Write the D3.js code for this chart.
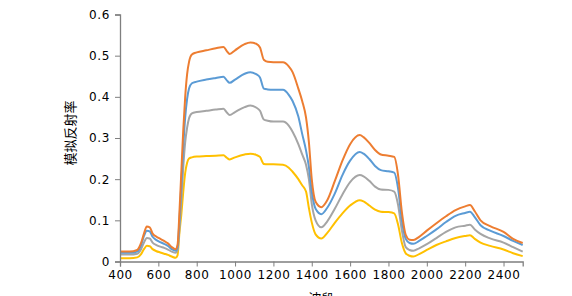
<!DOCTYPE html>
<html>
<head>
<meta charset="utf-8">
<script src="https://cdn.jsdelivr.net/npm/d3@7"></script>
<style>
  body { margin: 0; background: #fff; }
  svg { display: block; }
</style>
</head>
<body>
<svg id="chart" width="572" height="296"></svg>
<script>
// wavelengths (nm)
const wavelengths = [400, 450, 490, 510, 525, 540, 555, 570, 590, 610, 630, 650, 670, 690,
  700, 710, 720, 730, 740, 750, 760, 775, 800, 850, 900, 940, 957, 972, 1000, 1050, 1080,
  1110, 1130, 1150, 1170, 1200, 1250, 1280, 1300, 1330, 1350, 1370, 1385, 1400, 1420, 1450,
  1480, 1520, 1560, 1600, 1650, 1670, 1700, 1730, 1760, 1800, 1830, 1850, 1870, 1890, 1910,
  1930, 1960, 2000, 2050, 2100, 2150, 2200, 2225, 2250, 2280, 2330, 2400, 2450, 2500];

const orangeVals = [0.024, 0.024, 0.028, 0.045, 0.068, 0.085, 0.083, 0.068, 0.06, 0.055, 0.05, 0.044, 0.035, 0.03,
  0.04, 0.12, 0.22, 0.32, 0.40, 0.455, 0.485, 0.503, 0.508, 0.513, 0.518, 0.521, 0.511, 0.504, 0.513, 0.528, 0.532,
  0.529, 0.52, 0.49, 0.485, 0.484, 0.484, 0.474, 0.46, 0.42, 0.39, 0.35, 0.29, 0.2, 0.145, 0.132,
  0.148, 0.195, 0.245, 0.285, 0.307, 0.302, 0.288, 0.271, 0.26, 0.257, 0.254, 0.21, 0.12, 0.065, 0.053,
  0.052, 0.06, 0.075, 0.093, 0.11, 0.125, 0.134, 0.137, 0.122, 0.1, 0.086, 0.072, 0.055, 0.045];

const blueVals = [0.021, 0.021, 0.024, 0.04, 0.062, 0.075, 0.073, 0.06, 0.052, 0.047, 0.043, 0.038, 0.03, 0.026,
  0.034, 0.1, 0.19, 0.28, 0.35, 0.395, 0.42, 0.433, 0.437, 0.442, 0.446, 0.449, 0.44, 0.434, 0.442, 0.456, 0.46,
  0.455, 0.447, 0.42, 0.418, 0.417, 0.417, 0.405, 0.39, 0.352, 0.31, 0.27, 0.23, 0.17, 0.128, 0.115,
  0.13, 0.165, 0.21, 0.245, 0.266, 0.262, 0.249, 0.232, 0.222, 0.219, 0.216, 0.178, 0.1, 0.055, 0.045,
  0.043, 0.05, 0.062, 0.078, 0.096, 0.111, 0.118, 0.121, 0.108, 0.088, 0.075, 0.062, 0.05, 0.04];

const grayVals = [0.017, 0.017, 0.019, 0.03, 0.046, 0.057, 0.056, 0.046, 0.04, 0.036, 0.033, 0.029, 0.024, 0.021,
  0.028, 0.08, 0.15, 0.23, 0.29, 0.325, 0.348, 0.36, 0.363, 0.366, 0.369, 0.371, 0.362, 0.356, 0.363, 0.375, 0.379,
  0.374, 0.366, 0.345, 0.342, 0.34, 0.34, 0.33, 0.315, 0.285, 0.26, 0.235, 0.2, 0.14, 0.1, 0.083,
  0.097, 0.128, 0.163, 0.193, 0.21, 0.207, 0.196, 0.182, 0.175, 0.174, 0.17, 0.138, 0.075, 0.035, 0.028,
  0.026, 0.032, 0.042, 0.057, 0.072, 0.083, 0.087, 0.089, 0.078, 0.067, 0.056, 0.046, 0.035, 0.024];

const yellowVals = [0.008, 0.008, 0.01, 0.018, 0.03, 0.038, 0.037, 0.03, 0.025, 0.022, 0.019, 0.016, 0.012, 0.009,
  0.015, 0.07, 0.115, 0.17, 0.215, 0.24, 0.25, 0.253, 0.255, 0.256, 0.257, 0.258, 0.252, 0.248, 0.253, 0.26, 0.262,
  0.259, 0.254, 0.237, 0.236, 0.236, 0.235, 0.228, 0.218, 0.2, 0.185, 0.17, 0.13, 0.095, 0.066, 0.056,
  0.069, 0.094, 0.117, 0.136, 0.149, 0.146, 0.136, 0.126, 0.121, 0.12, 0.117, 0.09, 0.045, 0.02, 0.014,
  0.012, 0.018, 0.028, 0.04, 0.049, 0.057, 0.062, 0.064, 0.055, 0.046, 0.038, 0.029, 0.02, 0.013];

const xTicks = [400, 600, 800, 1000, 1200, 1400, 1600, 1800, 2000, 2200, 2400];
const yTicks = [0, 0.1, 0.2, 0.3, 0.4, 0.5, 0.6];

const seriesList = [
  { values: yellowVals, color: "#FFC000" },
  { values: grayVals, color: "#A5A5A5" },
  { values: blueVals, color: "#5B9BD5" },
  { values: orangeVals, color: "#ED7D31" }
];

const svg = d3.select("#chart");
const plotLeft = 120, plotRight = 522.7, plotTop = 14.5, plotBottom = 261.5;

const x = d3.scaleLinear().domain([400, 2500]).range([plotLeft, plotRight]);
const y = d3.scaleLinear().domain([0, 0.6]).range([plotBottom, plotTop]);

const line = d3.line()
  .x((d, i) => x(wavelengths[i]))
  .y(d => y(d))
  .curve(d3.curveMonotoneX);

svg.selectAll("path.series")
  .data(seriesList)
  .enter()
  .append("path")
  .attr("class", "series")
  .attr("d", s => line(s.values))
  .attr("fill", "none")
  .attr("stroke", s => s.color)
  .attr("stroke-width", 2)
  .attr("stroke-linejoin", "round");

// axes
const xAxis = svg.append("g")
  .attr("transform", `translate(0,${plotBottom})`)
  .call(d3.axisBottom(x).tickValues(xTicks).tickSize(5).tickPadding(4).tickFormat(d3.format("d")));

const yAxis = svg.append("g")
  .attr("transform", `translate(${plotLeft},0)`)
  .call(d3.axisLeft(y).tickValues(yTicks).tickSize(5).tickPadding(5)
    .tickFormat(d => d === 0 ? "0" : d3.format(".1f")(d)));

[xAxis, yAxis].forEach(g => {
  g.select(".domain").attr("stroke", "#7f7f7f").attr("stroke-width", 1.3);
  g.selectAll(".tick line").attr("stroke", "#7f7f7f");
  g.selectAll(".tick text")
    .attr("fill", "#000")
    .style("font-family", "'DejaVu Sans', sans-serif")
    .style("font-size", "12px")
    .style("letter-spacing", "0.6px");
});

// axis titles
svg.append("text")
  .attr("transform", "translate(75,133) rotate(-90)")
  .attr("text-anchor", "middle")
  .style("font-family", "'Noto Sans CJK SC', sans-serif")
  .style("font-size", "13px")
  .attr("fill", "#000")
  .text("模拟反射率");

// x title sits partly below the bottom edge, as in the reference
svg.append("text")
  .attr("x", (plotLeft + plotRight) / 2)
  .attr("y", 303)
  .attr("text-anchor", "middle")
  .style("font-family", "'Noto Sans CJK SC', sans-serif")
  .style("font-size", "13px")
  .attr("fill", "#000")
  .text("波段");
</script>
</body>
</html>
